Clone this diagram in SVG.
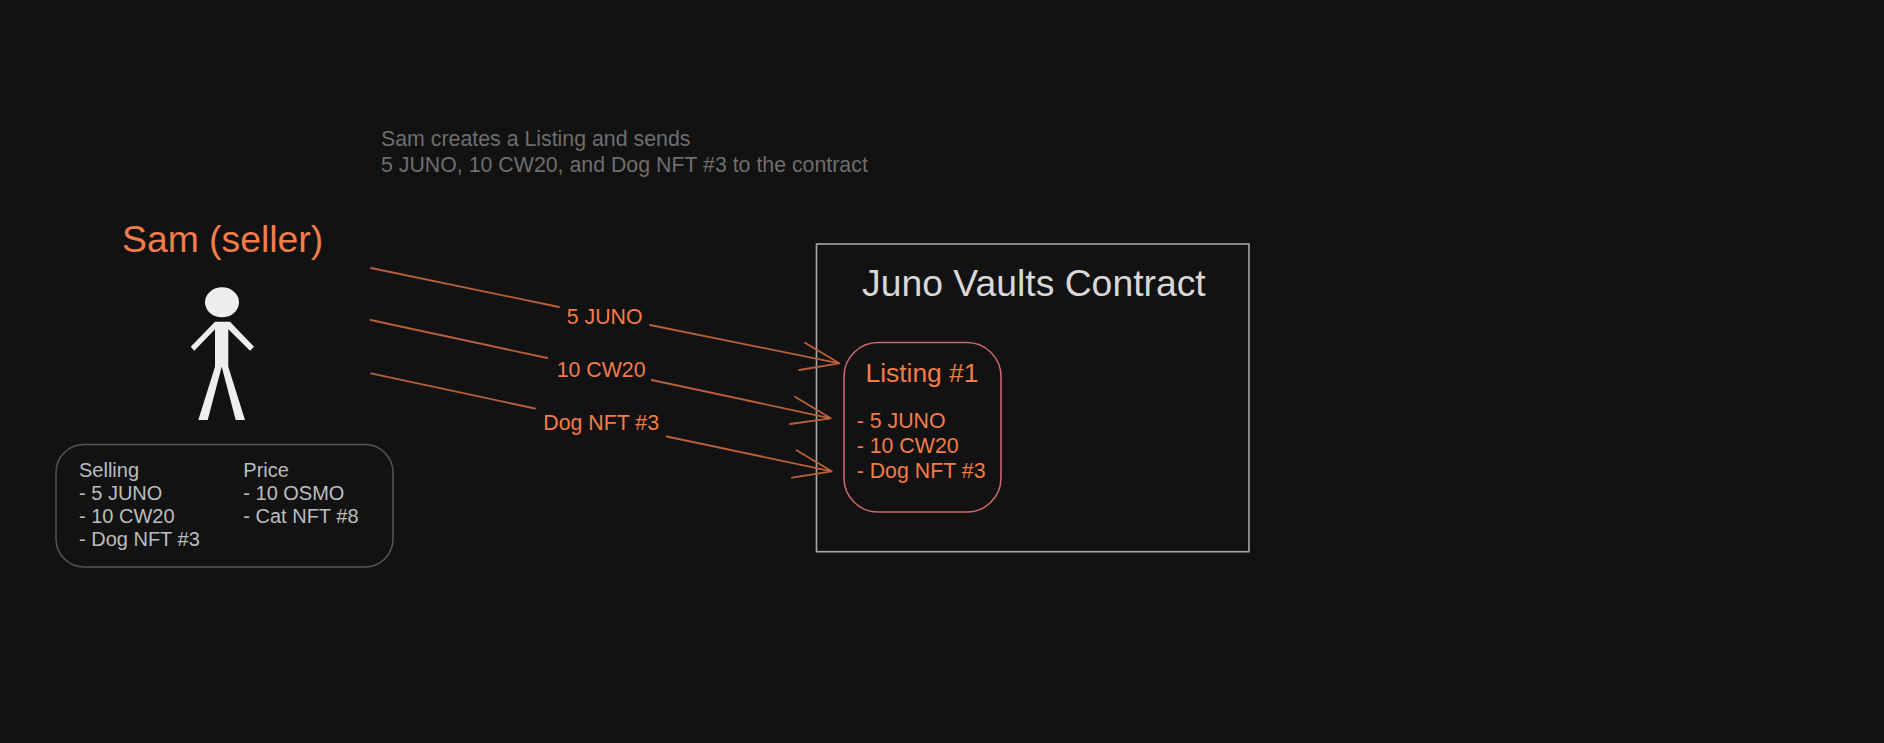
<svg xmlns="http://www.w3.org/2000/svg" width="1884" height="743" viewBox="0 0 1884 743">
<style>
text{font-family:"Liberation Sans",Arial,sans-serif;white-space:pre}
.o{fill:#f47c48}
.c{fill:none;stroke:#b9603a;stroke-width:1.8;stroke-linecap:round;stroke-linejoin:round}
.s{font-size:20px;fill:#bdbdbd}
.l{font-size:21.33px}
</style>
<rect width="1884" height="743" fill="#121212"/>
<g id="caption"><text x="381" y="146.3" font-size="21.33" fill="#6e6e6e">Sam creates a Listing and sends</text><text x="381" y="171.6" font-size="21.33" fill="#6e6e6e">5 JUNO, 10 CW20, and Dog NFT #3 to the contract</text></g>
<g id="sam">
<text class="o" x="122" y="252" font-size="37.33">Sam (seller)</text>
<ellipse cx="222" cy="302.3" rx="17" ry="15" fill="#eee"/>
<path fill="#eee" d="M215 321.7H230L254 346.7L250 350.7L228.3 329.3V366.7L245 420H235.7L221.7 366.7L207.7 420H198.3L215 366.7V329.3L194.3 350.7L190.7 346.7Z"/>
</g>
<g id="terms">
<rect x="56" y="444.5" width="337" height="122.5" rx="28" fill="none" stroke="#555" stroke-width="1.5"/>
<text class="s" x="79" y="477">Selling</text><text class="s" x="79" y="500">- 5 JUNO</text><text class="s" x="79" y="523">- 10 CW20</text><text class="s" x="79" y="546">- Dog NFT #3</text>
<text class="s" x="243.3" y="477">Price</text><text class="s" x="243.3" y="500">- 10 OSMO</text><text class="s" x="243.3" y="523">- Cat NFT #8</text>
</g>
<g id="contract">
<rect x="816.5" y="244" width="432.5" height="307.7" fill="none" stroke="#a8a8a8" stroke-width="1.6"/>
<text x="862" y="296" font-size="37.33" fill="#d8d8d8">Juno Vaults Contract</text>
</g>
<g id="listing">
<rect x="844" y="342.5" width="157" height="169.5" rx="34" fill="none" stroke="#c9666a" stroke-width="1.6"/>
<text class="o" x="865.5" y="381.7" font-size="26.4">Listing #1</text>
<text class="o l" x="856.7" y="428">- 5 JUNO</text><text class="o l" x="856.7" y="453">- 10 CW20</text><text class="o l" x="856.7" y="478">- Dog NFT #3</text>
</g>
<g id="connectors">
<path class="c" d="M371 268L559 307M650 325L839.3 363.3M805 342.7L839.3 363.3L799.3 370"/>
<path class="c" d="M370.5 320L547.3 358M651.7 380L830.7 418.3M795 396.7L830.7 418.3L790 424"/>
<path class="c" d="M371 373.3L535 408.5M666.7 436.5L831.7 471.3M796.5 450.3L831.7 471.3L792 477.7"/>
<text class="o l" x="566.7" y="323.5">5 JUNO</text>
<text class="o l" x="556.7" y="376.7">10 CW20</text>
<text class="o l" x="543.3" y="430.3">Dog NFT #3</text>
</g>
</svg>
